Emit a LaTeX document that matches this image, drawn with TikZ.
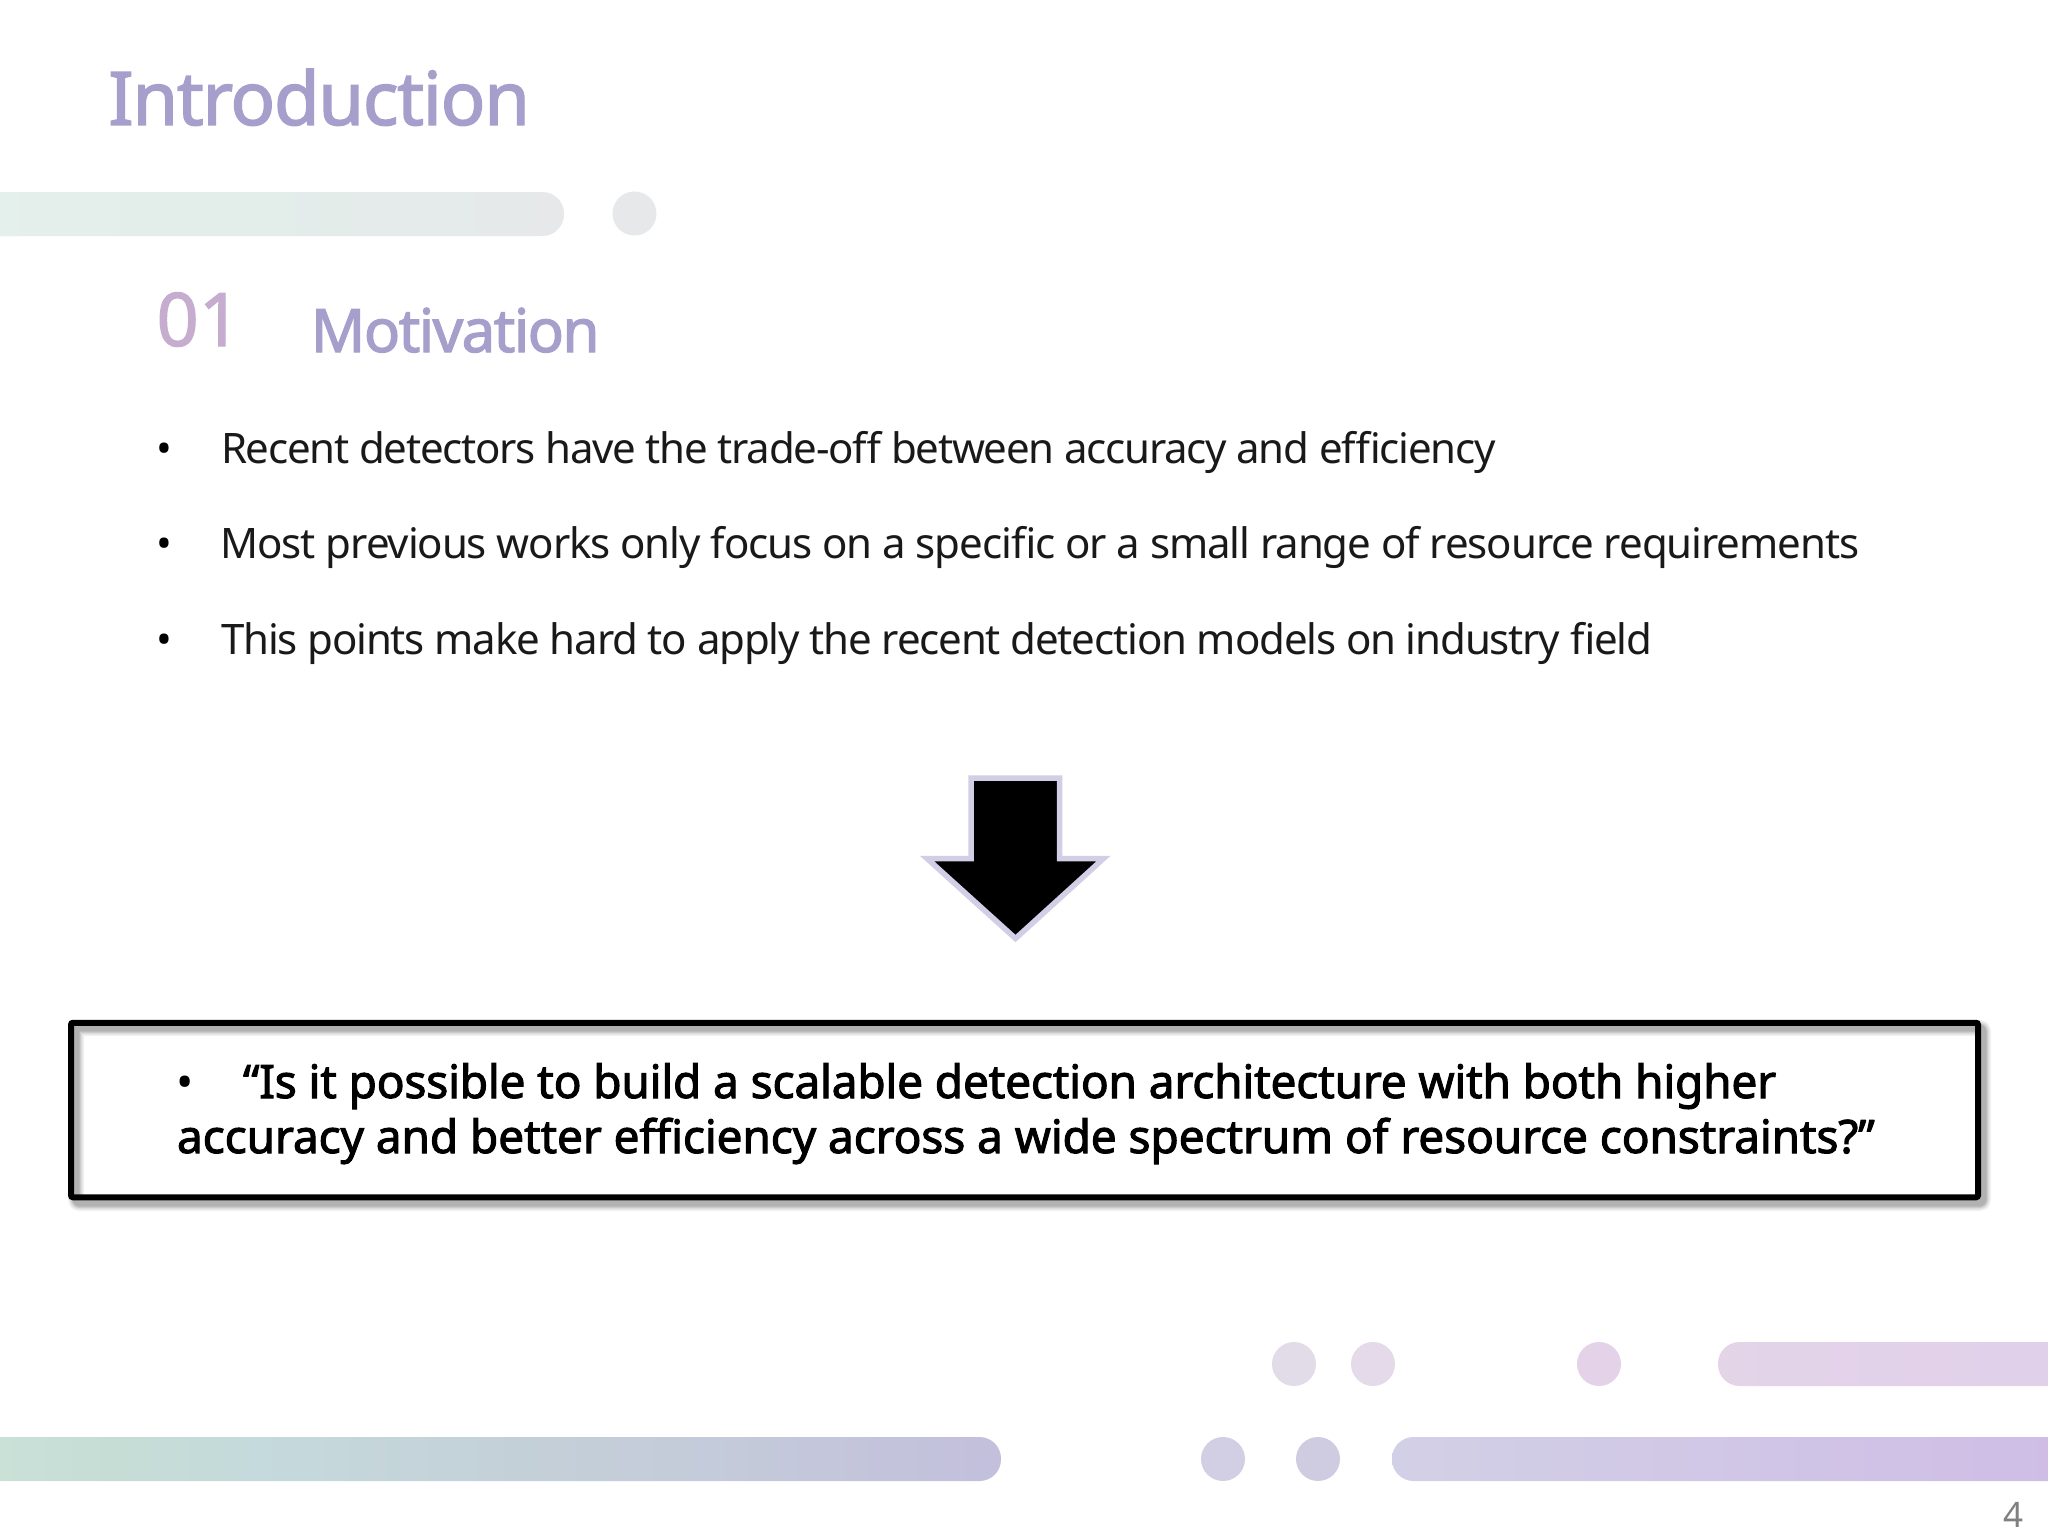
\documentclass[tikz,border=0pt]{standalone}
\usepackage{fontspec}
\setmainfont{Noto Sans}
\newfontfamily\bodyf{Noto Sans}
\newfontfamily\boldish[FakeBold=2.2]{Noto Sans}
\newfontfamily\titlef[FakeBold=2,LetterSpace=-1.6]{Noto Sans}
\newfontfamily\motf[FakeBold=2,LetterSpace=-2.6]{Noto Sans}
\newfontfamily\numf[FakeBold=1.5]{Noto Sans}
\definecolor{titlecol}{HTML}{A79FCB}
\definecolor{numcol}{HTML}{C6ADD0}
\definecolor{arrowedge}{HTML}{D2CEE6}
\definecolor{barAl}{HTML}{E4F0EC}
\definecolor{barAm}{HTML}{E3EDEA}
\definecolor{barAr}{HTML}{E6E8EA}
\definecolor{barCl}{HTML}{D2D0E6}
\definecolor{barCr}{HTML}{CFBCE6}
\definecolor{barDl}{HTML}{E4D4E8}
\definecolor{barDr}{HTML}{E0CFEA}
\definecolor{dotA}{HTML}{E6E8EA}
\definecolor{dotB}{HTML}{E2DBE8}
\definecolor{dotC}{HTML}{E4DAEA}
\definecolor{dotD}{HTML}{E3D2E8}
\definecolor{dotE}{HTML}{D2CFE4}
\definecolor{dotF}{HTML}{CFCCE2}
\definecolor{stopA}{HTML}{CBE2D9}
\definecolor{stopB}{HTML}{C6DDD6}
\definecolor{stopC}{HTML}{C5DADC}
\definecolor{stopD}{HTML}{C4D0D8}
\definecolor{stopE}{HTML}{C4CBDA}
\definecolor{stopF}{HTML}{C3BFDC}
\pgfdeclarehorizontalshading{barBshade}{100bp}{color(0bp)=(stopA); color(25bp)=(stopA); color(32bp)=(stopB); color(39bp)=(stopC); color(51.5bp)=(stopD); color(61bp)=(stopE); color(75bp)=(stopF); color(100bp)=(stopF)}
\pgfdeclarehorizontalshading{barAshade}{100bp}{color(0bp)=(barAl); color(25bp)=(barAl); color(50bp)=(barAm); color(75bp)=(barAr); color(100bp)=(barAr)}
\tikzset{
  txt/.style={anchor=base west,inner sep=0pt,outer sep=0pt},
  body/.style={txt,font=\bodyf\fontsize{42}{50}\selectfont,text=black!90},
  bar/.style={rounded corners=21.5pt,draw=none},
  dot/.style={circle,draw=none,minimum size=44pt,inner sep=0pt},
  shadowline/.style={draw=black,line join=round,rounded corners=3pt}
}
\begin{document}
\begin{tikzpicture}[x=1pt,y=-1pt]
\useasboundingbox (0,0) rectangle (2048,1536);
\fill[white] (0,0) rectangle (2048,1536);
% decoration bars
\shade[bar,shading=barAshade] (-30,192) rectangle (564,236);
\shade[bar,shading=barBshade] (-30,1437) rectangle (1001,1481);
\shade[bar,left color=barCl,right color=barCr] (1392,1437) rectangle (2090,1481);
\shade[bar,left color=barDl,right color=barDr] (1718,1342) rectangle (2090,1386);
% dots
\node[dot,fill=dotA] (d1) at (634.5,213.5) {};
\node[dot,fill=dotB] (d2) at (1294,1364) {};
\node[dot,fill=dotC] (d3) at (1373,1364) {};
\node[dot,fill=dotD] (d4) at (1599,1364) {};
\node[dot,fill=dotE] (d5) at (1223,1459) {};
\node[dot,fill=dotF] (d6) at (1318,1459) {};
% headings
\node[txt,font=\titlef\fontsize{74}{80}\selectfont,text=titlecol] (title) at (108.5,125) {Introduction};
\node[txt,font=\numf\fontsize{74}{80}\selectfont,text=numcol] (num) at (156.5,346) {01};
\node[txt,font=\motf\fontsize{60}{70}\selectfont,text=titlecol] (mot) at (311,352) {Motivation};
% bullets
\node[txt,font=\fontsize{42}{50}\selectfont] (b1) at (156,463) {•};
\node[txt,font=\fontsize{42}{50}\selectfont] (b2) at (156,558) {•};
\node[txt,font=\fontsize{42}{50}\selectfont] (b3) at (156,654) {•};
\node[body] (t1) at (221,463) {\addfontfeature{LetterSpace=-3}Recent detectors have the trade-off between accuracy and efficiency};
\node[body] (t2) at (220.5,558) {\addfontfeature{LetterSpace=-2.6}Most previous works only focus on a specific or a small range of resource requirements};
\node[body] (t3) at (221,654) {\addfontfeature{LetterSpace=-2.8}This points make hard to apply the recent detection models on industry field};
% arrow
\draw[draw=arrowedge,fill=black,line width=5.5pt,miter limit=10]
  (971,778) -- (1059.5,778) -- (1059.5,858.5) -- (1103.5,858.5) -- (1015.5,938.5)
  -- (927,858.5) -- (971,858.5) -- cycle;
% box shadow
\foreach \w/\o in {16/0.05,13/0.07,10/0.09,7/0.12}{
  \draw[shadowline,line width=\w pt,opacity=\o] (76,1028) rectangle (1983,1203);
}
% box
\node[draw=black,line width=6pt,rounded corners=2pt,minimum width=1907pt,minimum height=174.5pt,inner sep=0pt,fill=none] (box) at (1024.5,1110) {};
\node[txt,font=\fontsize{46}{50}\selectfont] (bb) at (176,1098) {•};
\node[txt,font=\boldish\fontsize{46}{50}\selectfont] (q1) at (243,1098) {\addfontfeature{LetterSpace=-0.4}“Is it possible to build a scalable detection architecture with both higher};
\node[txt,font=\boldish\fontsize{46}{50}\selectfont] (q2) at (177,1153) {\addfontfeature{LetterSpace=-0.25}accuracy and better efficiency across a wide spectrum of resource constraints?”};
% page number
\node[txt,font=\fontsize{35}{40}\selectfont,text=black!50] (pg) at (2003,1527) {4};
\end{tikzpicture}
\end{document}
